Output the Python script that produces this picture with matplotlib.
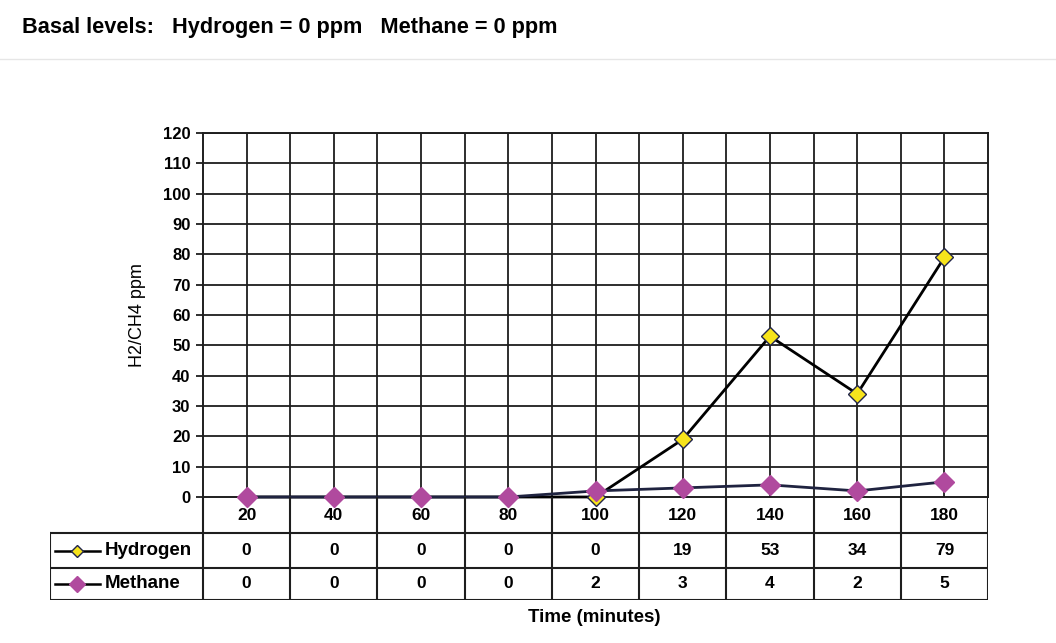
import matplotlib.pyplot as plt
from matplotlib.lines import Line2D

plt.rcParams['font.family'] = ['Liberation Sans', 'DejaVu Sans']

# data
times = [20, 40, 60, 80, 100, 120, 140, 160, 180]
hydrogen = [0, 0, 0, 0, 0, 19, 53, 34, 79]
methane = [0, 0, 0, 0, 2, 3, 4, 2, 5]
yticks = list(range(0, 121, 10))

W, H = 1056, 643
fig = plt.figure(figsize=(W / 100, H / 100), dpi=100)

def fx(px):
    return px / W

def fy(py):
    return 1 - py / H

# plot area in pixels
x0, x1 = 203, 988
ytop, y0 = 133, 497
row_edges = [497, 533, 568, 600]
left_box = 50

grid_c = '#1e1e1e'
h_col = '#f7e41c'
m_col = '#b04a9e'

ax = fig.add_axes([fx(x0), fy(y0), fx(x1 - x0), (y0 - ytop) / H])
n = len(times)
xs = [i + 0.5 for i in range(n)]
ax.set_xlim(0, n)
ax.set_ylim(0, 120)
ax.set_yticks(yticks)
ax.set_yticklabels([str(v) for v in yticks], fontsize=12, fontweight='bold')
ax.set_xticks([])
ax.tick_params(axis='y', length=5, width=1.3, color=grid_c, pad=4)
for s in ax.spines.values():
    s.set_color(grid_c)
    s.set_linewidth(1.4)

for v in yticks[1:]:
    ax.axhline(v, color=grid_c, lw=1.3, zorder=1)
for i in range(1, 2 * n):
    ax.axvline(i / 2, color=grid_c, lw=1.3, zorder=1)

ax.plot(xs, hydrogen, color='black', lw=2, marker='D', ms=9,
        mfc=h_col, mec='#22254a', mew=1, zorder=3, clip_on=False)
ax.plot(xs, methane, color='#1f2340', lw=2, marker='D', ms=10.5,
        mfc=m_col, mec=m_col, zorder=4, clip_on=False)

ax.set_ylabel('H2/CH4 ppm', fontsize=13, labelpad=12)

# data table under the plot
tab = fig.add_axes([fx(left_box), fy(row_edges[-1]), fx(x1 - left_box),
                    (row_edges[-1] - row_edges[0]) / H])
ux = (x1 - x0) / n
tab.set_xlim(-(x0 - left_box) / ux, n)
tab.set_ylim(row_edges[-1], row_edges[0])
tab.axis('off')

lw = 1.5
# vertical column lines
for i in range(n + 1):
    tab.plot([i, i], [row_edges[0], row_edges[-1]], color=grid_c, lw=lw)
# horizontal row lines
xl = tab.get_xlim()[0]
for k, yy in enumerate(row_edges[1:]):
    tab.plot([xl, n], [yy, yy], color=grid_c, lw=lw)
tab.plot([xl, xl], [row_edges[1], row_edges[-1]], color=grid_c, lw=lw)

def mid(k):
    return (row_edges[k] + row_edges[k + 1]) / 2

for i, t in enumerate(times):
    tab.text(i + 0.5, mid(0), str(t), ha='center', va='center',
             fontsize=12.5, fontweight='bold')
    tab.text(i + 0.5, mid(1), str(hydrogen[i]), ha='center', va='center',
             fontsize=12.5, fontweight='bold')
    tab.text(i + 0.5, mid(2), str(methane[i]), ha='center', va='center',
             fontsize=12.5, fontweight='bold')

# legend keys in the row headers
def key(k, label, mfc, mec, ms):
    a = xl + 5 / ux
    b = xl + 50 / ux
    tab.add_line(Line2D([a, b], [mid(k), mid(k)], color='black', lw=1.8))
    tab.plot([(a + b) / 2], [mid(k)], marker='D', ms=ms, mfc=mfc, mec=mec, mew=1)
    tab.text(xl + 55 / ux, mid(k), label, ha='left', va='center',
             fontsize=13.5, fontweight='bold')

key(1, 'Hydrogen', h_col, '#22254a', 6)
key(2, 'Methane', m_col, m_col, 8)

fig.text(fx(594), fy(617), 'Time (minutes)', ha='center', va='center',
         fontsize=13.5, fontweight='bold')

fig.text(fx(22), fy(27), 'Basal levels:   Hydrogen = 0 ppm   Methane = 0 ppm',
         ha='left', va='center', fontsize=15.7, fontweight='bold')
fig.add_artist(Line2D([0, 1], [fy(59), fy(59)], color='#e6e6e6', lw=1))

fig.savefig('out.png', dpi=100)
